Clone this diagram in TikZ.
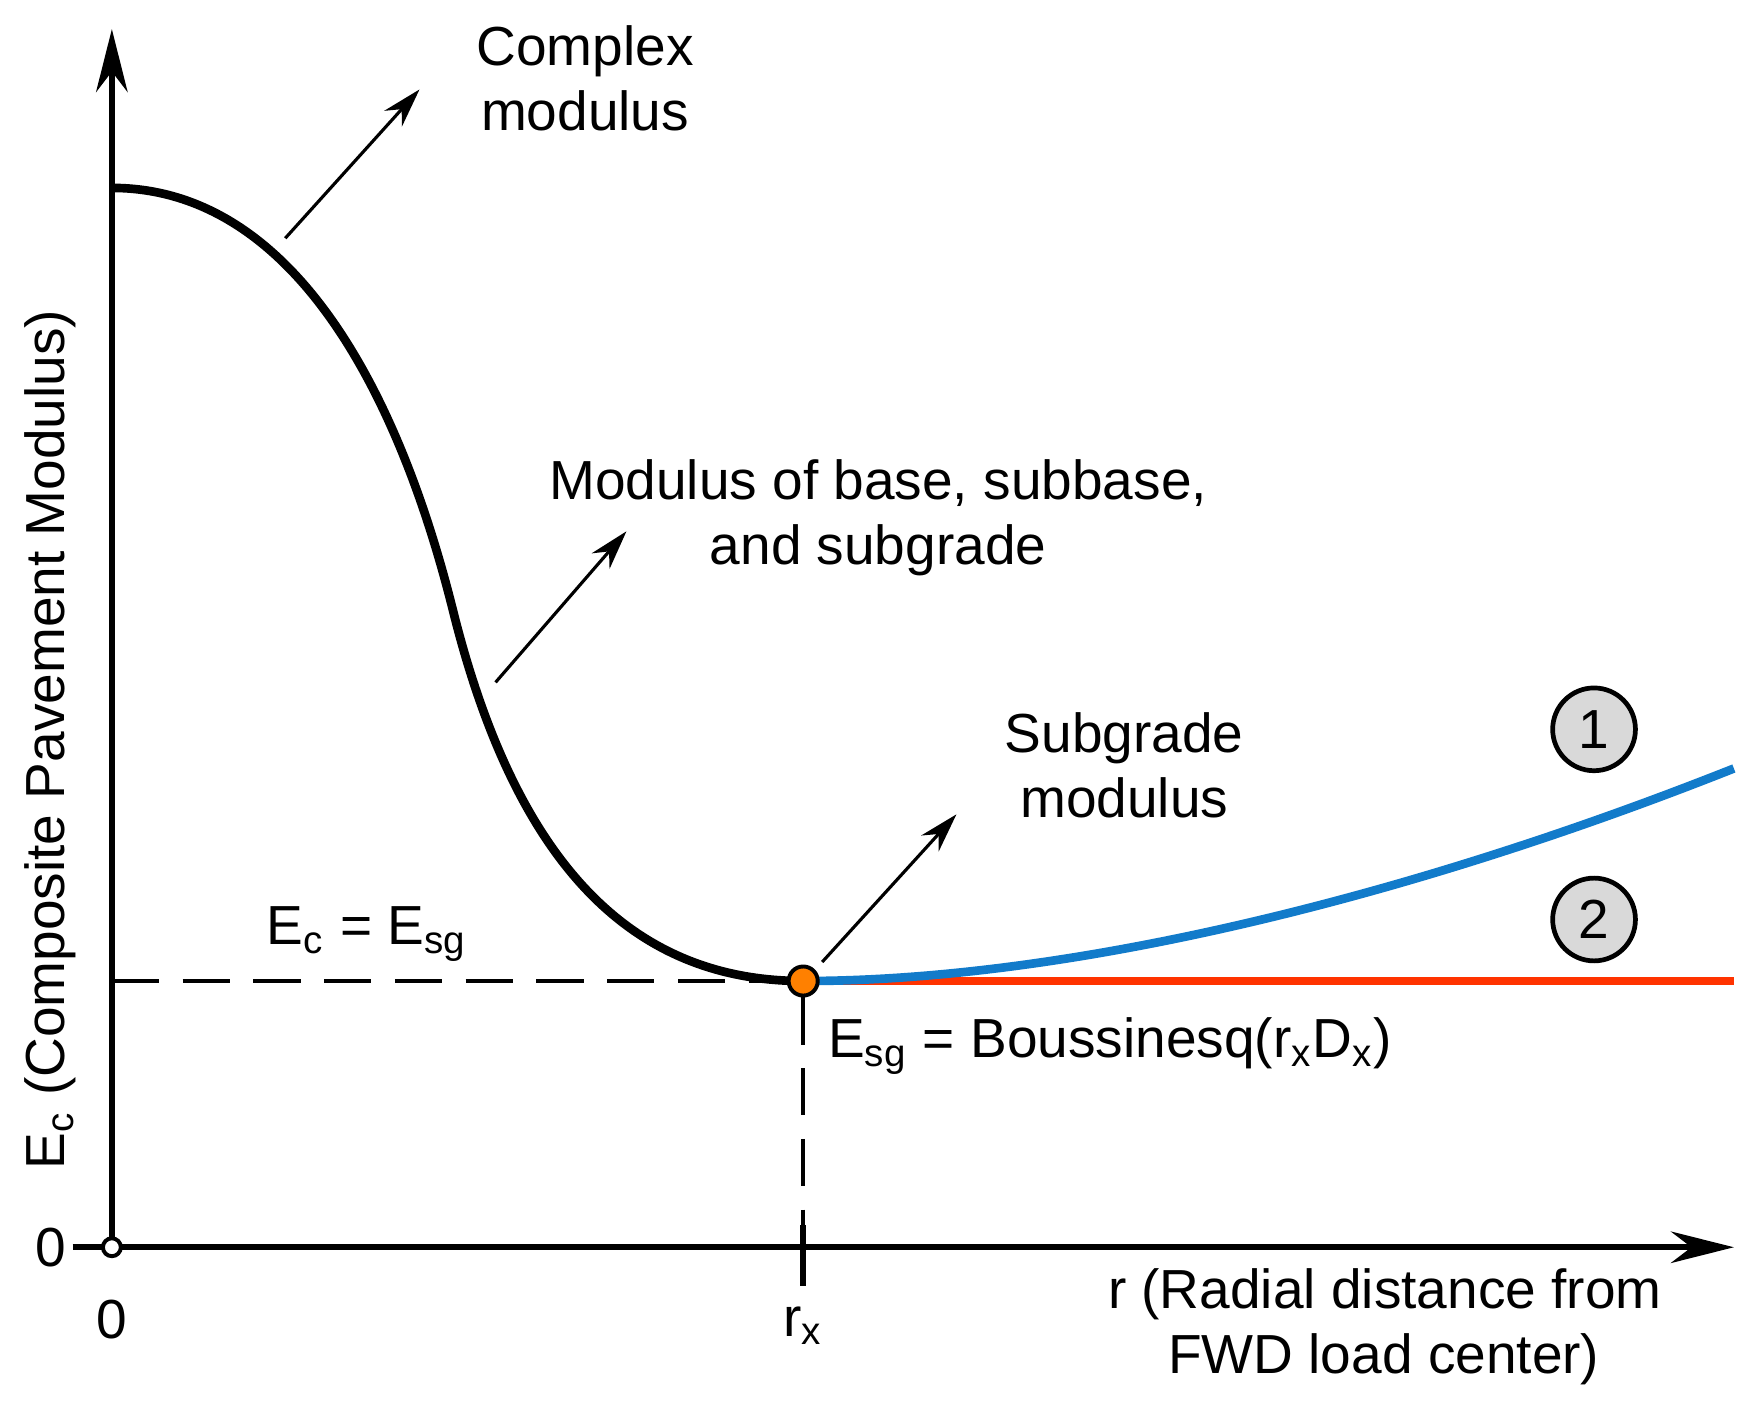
\documentclass[tikz,border=0pt]{standalone}
\usepackage{fontspec}
\setmainfont{Liberation Sans}
\usetikzlibrary{arrows.meta}
\begin{document}
\begin{tikzpicture}[font=\fontsize{14}{16.5}\selectfont,
  ptr/.style={-{Stealth[length=10pt,width=6pt]},line width=0.8pt},
  axis/.style={-{Stealth[length=16pt,width=8pt]},line width=1.6pt},
  num/.style={circle,draw,line width=1.2pt,fill=black!15,minimum size=0.74cm,inner sep=0pt}]
\useasboundingbox (0,0) rectangle (15.68,12.56);
\coordinate (O) at (1,1.41);
\coordinate (Ytop) at (1,12.3);
\coordinate (Xl) at (0.65,1.41);
\coordinate (Xr) at (15.5,1.41);
\coordinate (P) at (7.18,3.79);
\coordinate (Pl) at (1,3.79);
\coordinate (Pb) at (7.18,1.06);
\coordinate (B) at (15.5,5.69);
\coordinate (R) at (15.5,3.79);
\draw[dashed,dash pattern=on 12pt off 6pt,line width=0.9pt] (Pl) -- (P) -- (Pb);
\draw[axis] (O) -- (Ytop);
\draw[axis] (Xl) -- (Xr);
\draw[line width=1.5pt] (7.18,1.61) -- (Pb);
\node[circle,draw,line width=1pt,fill=white,inner sep=0pt,minimum size=0.16cm] (o) at (O) {};
\node (z1) at (0.45,1.41) {0};
\node (z2) at (1,0.76) {0};
\node (rx) at (7.18,0.71) {r\textsubscript{x}};
\draw[line width=2.2pt] (1,10.88) .. controls (2.5,10.88) and (3.5,9.3) .. (4.05,7.1)
  .. controls (4.6,4.9) and (5.6,3.79) .. (P);
\draw[line width=2.2pt,orange!40!red] (P) -- (R);
\draw[line width=2.2pt,cyan!60!blue] (P) .. controls (9.5,3.79) and (12.5,4.5) .. (B);
\node[circle,draw,line width=1pt,fill=orange,inner sep=0pt,minimum size=0.26cm] (pd) at (P) {};
\node[num] (n1) at (14.25,6.04) {1};
\node[num] (n2) at (14.25,4.34) {2};
\node[align=center] (cm) at (5.23,11.86) {Complex\\modulus};
\coordinate (a1s) at (2.55,10.43); \coordinate (a1e) at (3.75,11.76);
\draw[ptr] (a1s) -- (a1e);
\node[align=center] (mb) at (7.85,7.93) {Modulus of base, subbase,\\and subgrade};
\coordinate (a2s) at (4.43,6.46); \coordinate (a2e) at (5.6,7.81);
\draw[ptr] (a2s) -- (a2e);
\node[align=center] (sm) at (10.05,5.72) {Subgrade\\modulus};
\coordinate (a3s) at (7.35,3.96); \coordinate (a3e) at (8.55,5.28);
\draw[ptr] (a3s) -- (a3e);
\node (ec) at (3.28,4.21) {E\textsubscript{c} = E\textsubscript{sg}};
\node[anchor=west] (bq) at (7.28,3.21) {E\textsubscript{sg} = Boussinesq(r\textsubscript{x}D\textsubscript{x})};
\node (rl1) at (12.38,0.99) {r (Radial distance from};
\node (rl2) at (12.37,0.41) {FWD load center)};
\node[rotate=90] (yl) at (0.45,5.95) {E\textsubscript{c} (Composite Pavement Modulus)};
\end{tikzpicture}
\end{document}
